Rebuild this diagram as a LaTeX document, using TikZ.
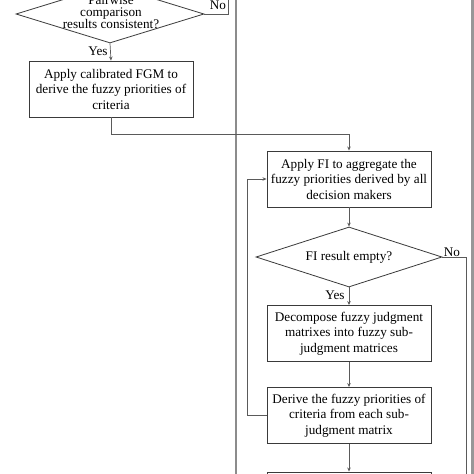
\documentclass[tikz,border=0pt]{standalone}
\usepackage{fontspec}
\setmainfont{Liberation Serif}
\usetikzlibrary{shapes.geometric,arrows.meta}
\definecolor{boxc}{HTML}{3A3A3A}
\definecolor{linec}{HTML}{5A5A5A}
\definecolor{framec}{HTML}{8C8C8C}
\tikzset{
  stepbox/.style={draw=boxc, line width=0.9pt, minimum width=164pt, minimum height=56pt,
    align=center, inner sep=0pt, font=\fontsize{13.2}{15.5}\selectfont},
  decbox/.style={draw=boxc, line width=0.8pt, diamond, inner sep=0pt},
  dectext/.style={align=center, inner sep=0pt, font=\fontsize{13.2}{12}\selectfont},
  lbl/.style={inner sep=0pt, font=\fontsize{13.2}{15}\selectfont},
  conn/.style={draw=linec, line width=0.7pt},
  arr/.style={conn, -{Stealth[length=4pt,width=3.5pt]}},
  frameline/.style={draw=framec, line width=1.2pt}
}
\begin{document}
\begin{tikzpicture}[x=1pt,y=-1pt]
\useasboundingbox (0,0) rectangle (474,474);
\clip (0,0) rectangle (474,474);
\fill[white] (0,0) rectangle (474,474);
% frame lines
\coordinate (dvT) at (236,-5);
\coordinate (dvB) at (236,480);
\draw[frameline] (dvT) -- (dvB);
\coordinate (rbT) at (472.5,-5);
\coordinate (rbB) at (472.5,480);
\draw[draw=framec!90, line width=3pt] (rbT) -- (rbB);
% left column
\node[decbox, minimum width=188pt, minimum height=58pt] (d1) at (110,14) {};
\node[dectext] (d1t) at (111,12.5) {Pairwise\\comparison\\results consistent?};
\node[stepbox] (fgm) at (111,89) {Apply calibrated FGM to\\derive the fuzzy priorities of\\criteria};
\draw[arr] (d1.south) -- (fgm.north);
\node[lbl] (y1) at (98,51) {Yes};
\coordinate (n1) at (228,-5);
\draw[conn] (d1.east) -| (n1);
\node[lbl] (no1) at (218,5) {No};
% right column
\node[stepbox] (fi) at (349,179) {Apply FI to aggregate the\\fuzzy priorities derived by all\\decision makers};
\coordinate (j1) at (0,134);
\draw[arr] (fgm.south) -- (fgm.south |- j1) -| (fi.north);
\node[decbox, minimum width=186pt, minimum height=60pt] (d2) at (349,257) {};
\node[dectext] (d2t) at (349,257) {FI result empty?};
\draw[arr] (fi.south) -- (d2.north);
\node[lbl] (no2) at (452,252) {No};
\coordinate (n2) at (466,480);
\draw[conn] (d2.east) -| (n2);
\node[stepbox] (dec) at (349,333.5) {Decompose fuzzy judgment\\matrixes into fuzzy sub-\\judgment matrices};
\draw[arr] (d2.south) -- (dec.north);
\node[lbl] (y2) at (335,295) {Yes};
\node[stepbox] (der) at (349,415.5) {Derive the fuzzy priorities of\\criteria from each sub-\\judgment matrix};
\draw[arr] (dec.south) -- (der.north);
\coordinate (lp) at (247,0);
\draw[arr] (der.west) -- (der.west -| lp) |- (fi.west);
\node[stepbox] (last) at (349,500) {};
\draw[arr] (der.south) -- (last.north);
\end{tikzpicture}
\end{document}
